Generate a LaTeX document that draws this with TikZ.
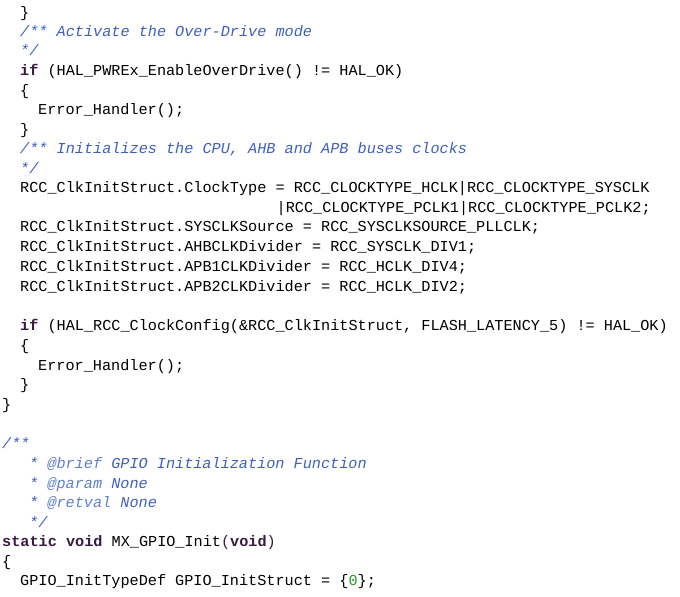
\documentclass[tikz,border=0pt]{standalone}
\usepackage{fontspec}
\setmainfont{Liberation Mono}
\definecolor{cmt}{HTML}{3F5FBF}
\definecolor{tag}{HTML}{5F7FCF}
\definecolor{kwc}{HTML}{3A1A40}
\definecolor{num}{HTML}{20A020}
\newcommand\kwd[1]{\textbf{\color{kwc}#1}}
\newcommand\cm[1]{{\color{cmt}\itshape #1}}
\newcommand\tg[1]{{\color{tag}\itshape #1}}
\begin{document}
\begin{tikzpicture}[x=1pt,y=-1pt,
  ln/.style={anchor=base west,inner sep=0pt,font=\fontsize{15.2}{15}\selectfont}]
\useasboundingbox (0,0) rectangle (680,597);
\def\cw{9.0}
\node[ln] (l1) at (2+2*\cw,17) {\}};
\node[ln] (l2) at (2+2*\cw,36) {\cm{/** Activate the Over-Drive mode}};
\node[ln] (l3) at (2+2*\cw,55) {\cm{*/}};
\node[ln] (l4) at (2+2*\cw,75) {\kwd{if} (HAL\_PWREx\_EnableOverDrive() != HAL\_OK)};
\node[ln] (l5) at (2+2*\cw,95) {\{};
\node[ln] (l6) at (2+4*\cw,114) {Error\_Handler();};
\node[ln] (l7) at (2+2*\cw,134) {\}};
\node[ln] (l8) at (2+2*\cw,153) {\cm{/** Initializes the CPU, AHB and APB buses clocks}};
\node[ln] (l9) at (2+2*\cw,173) {\cm{*/}};
\node[ln] (l10) at (2+2*\cw,192) {RCC\_ClkInitStruct.ClockType = RCC\_CLOCKTYPE\_HCLK|RCC\_CLOCKTYPE\_SYSCLK};
\node[ln] (l11) at (2+30.5*\cw,212) {|RCC\_CLOCKTYPE\_PCLK1|RCC\_CLOCKTYPE\_PCLK2;};
\node[ln] (l12) at (2+2*\cw,231) {RCC\_ClkInitStruct.SYSCLKSource = RCC\_SYSCLKSOURCE\_PLLCLK;};
\node[ln] (l13) at (2+2*\cw,251) {RCC\_ClkInitStruct.AHBCLKDivider = RCC\_SYSCLK\_DIV1;};
\node[ln] (l14) at (2+2*\cw,271) {RCC\_ClkInitStruct.APB1CLKDivider = RCC\_HCLK\_DIV4;};
\node[ln] (l15) at (2+2*\cw,291) {RCC\_ClkInitStruct.APB2CLKDivider = RCC\_HCLK\_DIV2;};
\node[ln] (l17) at (2+2*\cw,330) {\kwd{if} (HAL\_RCC\_ClockConfig(\&RCC\_ClkInitStruct, FLASH\_LATENCY\_5) != HAL\_OK)};
\node[ln] (l18) at (2+2*\cw,350) {\{};
\node[ln] (l19) at (2+4*\cw,370) {Error\_Handler();};
\node[ln] (l20) at (2+2*\cw,389) {\}};
\node[ln] (l21) at (2,409) {\}};
\node[ln] (l23) at (2,448) {\cm{/**}};
\node[ln] (l24) at (2+3*\cw,468) {\cm{* }\tg{@brief}\cm{ GPIO Initialization Function}};
\node[ln] (l25) at (2+3*\cw,488) {\cm{* }\tg{@param}\cm{ None}};
\node[ln] (l26) at (2+3*\cw,507) {\cm{* }\tg{@retval}\cm{ None}};
\node[ln] (l27) at (2+3*\cw,527) {\cm{*/}};
\node[ln] (l28) at (2,546) {\kwd{static} \kwd{void} MX\_GPIO\_Init{\color{kwc}(}\kwd{void}{\color{kwc})}};
\node[ln] (l29) at (2,566) {\{};
\node[ln] (l30) at (2+2*\cw,585) {GPIO\_InitTypeDef GPIO\_InitStruct = \{{\color{num}0}\};};
\end{tikzpicture}
\end{document}
